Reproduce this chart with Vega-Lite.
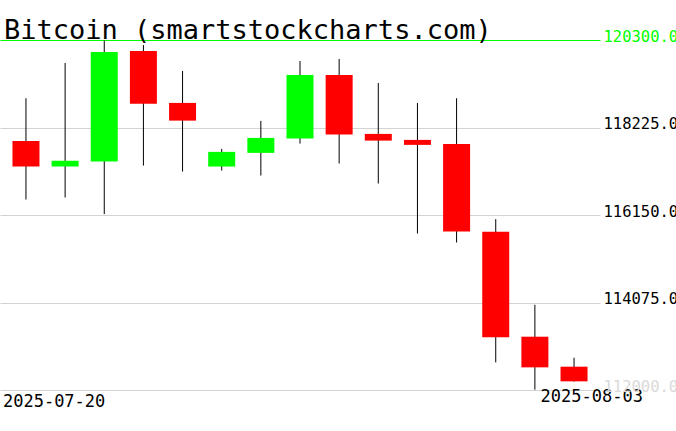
{
  "$schema": "https://vega.github.io/schema/vega-lite/v6.json",
  "description": "Bitcoin daily candles",
  "autosize": {"type": "none"},
  "padding": {"left": 0, "top": 40, "right": 76, "bottom": 41},
  "width": 600,
  "height": 350,
  "background": "white",
  "title": {
    "text": "Bitcoin (smartstockcharts.com)",
    "anchor": "start",
    "frame": "group",
    "baseline": "alphabetic",
    "offset": -37,
    "dx": 4,
    "font": "DejaVu Sans Mono",
    "fontSize": 27,
    "fontWeight": "normal",
    "color": "black"
  },
  "data": {
    "values": [
      {"date": "2025-07-20", "open": 117907, "high": 118919, "low": 116517, "close": 117299},
      {"date": "2025-07-21", "open": 117299, "high": 119755, "low": 116564, "close": 117434},
      {"date": "2025-07-22", "open": 117417, "high": 120290, "low": 116171, "close": 120016},
      {"date": "2025-07-23", "open": 120039, "high": 120182, "low": 117322, "close": 118791},
      {"date": "2025-07-24", "open": 118808, "high": 119566, "low": 117180, "close": 118388},
      {"date": "2025-07-25", "open": 117299, "high": 117718, "low": 117204, "close": 117647},
      {"date": "2025-07-26", "open": 117623, "high": 118381, "low": 117085, "close": 117978},
      {"date": "2025-07-27", "open": 117962, "high": 119803, "low": 117843, "close": 119471},
      {"date": "2025-07-28", "open": 119471, "high": 119850, "low": 117370, "close": 118057},
      {"date": "2025-07-29", "open": 118073, "high": 119281, "low": 116896, "close": 117914},
      {"date": "2025-07-30", "open": 117931, "high": 118808, "low": 115711, "close": 117813},
      {"date": "2025-07-31", "open": 117836, "high": 118919, "low": 115498, "close": 115759},
      {"date": "2025-08-01", "open": 115752, "high": 116052, "low": 112655, "close": 113248},
      {"date": "2025-08-02", "open": 113264, "high": 114022, "low": 112008, "close": 112537},
      {"date": "2025-08-03", "open": 112553, "high": 112767, "low": 112200, "close": 112205}
    ]
  },
  "encoding": {
    "x": {
      "field": "date",
      "type": "temporal",
      "title": null,
      "scale": {
        "type": "utc",
        "padding": 0,
        "domain": [
          {"year": 2025, "month": 7, "date": 19, "hours": 8, "minutes": 5, "utc": true},
          {"year": 2025, "month": 8, "date": 3, "hours": 15, "minutes": 55, "utc": true}
        ]
      },
      "axis": {
        "values": [
          {"year": 2025, "month": 7, "date": 20, "utc": true},
          {"year": 2025, "month": 8, "date": 3, "utc": true}
        ],
        "labelExpr": "utcFormat(datum.value, '%Y-%m-%d')",
        "grid": false,
        "domain": false,
        "ticks": false,
        "tickSize": 0,
        "labelAlign": "left",
        "labelBaseline": "alphabetic",
        "labelOffset": {"condition": {"test": "datum.value < utc(2025, 6, 25)", "value": -23.5}, "value": -34},
        "labelPadding": {"condition": {"test": "datum.value < utc(2025, 6, 25)", "value": 16}, "value": 11},
        "labelFont": "DejaVu Sans Mono",
        "labelFontSize": 17,
        "labelColor": "black",
        "labelOverlap": false
      }
    },
    "y": {
      "type": "quantitative",
      "title": null,
      "scale": {"domain": [112000, 120300], "nice": false, "zero": false, "padding": 0},
      "axis": {
        "orient": "right",
        "values": [112000, 114075, 116150, 118225, 120300],
        "format": ".1f",
        "grid": true,
        "gridColor": {"condition": {"test": "datum.value >= 120300", "value": "#00ff00"}, "value": "#d3d3d3"},
        "gridWidth": 1,
        "domain": false,
        "ticks": false,
        "tickSize": 0,
        "labelAlign": "left",
        "labelBaseline": "alphabetic",
        "labelOffset": 1,
        "labelPadding": 3,
        "labelFont": "DejaVu Sans Mono",
        "labelFontSize": 15.5,
        "labelColor": {
          "condition": [
            {"test": "datum.value >= 120300", "value": "#00ff00"},
            {"test": "datum.value <= 112000", "value": "#dadada"}
          ],
          "value": "black"
        },
        "labelOverlap": false
      }
    }
  },
  "layer": [
    {
      "mark": {"type": "rule", "color": "black", "strokeWidth": 1},
      "encoding": {
        "y": {"field": "low", "type": "quantitative"},
        "y2": {"field": "high"}
      }
    },
    {
      "mark": {"type": "bar", "size": 27, "orient": "vertical"},
      "encoding": {
        "y": {"field": "open", "type": "quantitative"},
        "y2": {"field": "close"},
        "color": {
          "condition": {"test": "datum.open < datum.close", "value": "#00ff00"},
          "value": "#ff0000"
        }
      }
    }
  ],
  "config": {
    "view": {"stroke": null},
    "axis": {"gridColor": "#d3d3d3"}
  }
}
